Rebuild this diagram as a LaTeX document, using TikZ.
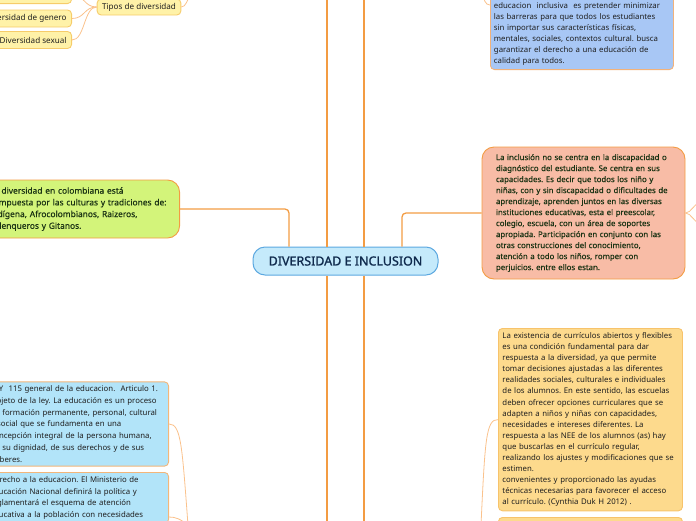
\documentclass[tikz,border=0pt]{standalone}
\usepackage{fontspec}
\setmainfont{Noto Sans}
\newfontfamily\heavyfont{Noto Sans}[FakeBold=0.5]
\newfontfamily\titlefont{Noto Sans}[FakeBold=1.2]
\usepackage{tikz}
\usetikzlibrary{positioning}
\definecolor{branchc}{HTML}{F39C43}
\definecolor{twigc}{HTML}{FAC28C}
\definecolor{topicfill}{HTML}{C5EAFB}
\definecolor{topicline}{HTML}{5CA8E0}
\definecolor{navy}{HTML}{0F2A4D}
\definecolor{lime}{HTML}{D3F47A}
\definecolor{salmon}{HTML}{F8BCA6}
\definecolor{leafc}{HTML}{1B3314}
\definecolor{sky}{HTML}{A8C7F5}
\definecolor{skyline}{HTML}{F2B27A}
\definecolor{sand}{HTML}{FDDA8D}
\definecolor{sandline}{HTML}{F7C36B}
\definecolor{pale}{HTML}{FFF2A8}
\definecolor{paleline}{HTML}{F6CC6A}
\definecolor{cyanfill}{HTML}{B2E4F9}
\definecolor{cyanline}{HTML}{F3B67A}
\definecolor{inkc}{HTML}{1E1E1E}

\begin{document}
\frenchspacing
\begin{tikzpicture}[x=1pt,y=-1pt,
  branch/.style={draw=branchc, line width=1.3pt, rounded corners=4pt},
  twig/.style={draw=twigc, line width=0.8pt},
  card/.style={rounded corners=4pt, line width=0.9pt, align=left, inner ysep=4pt, text=inkc, font=\fontsize{7.8}{11}\selectfont},
  tag/.style={card, fill=pale, draw=paleline, inner xsep=5pt, inner ysep=3pt, minimum height=17pt, align=center, font=\fontsize{8.1}{9}\selectfont},
  topic/.style={draw=topicline, fill=topicfill, line width=1pt, rounded corners=12pt, minimum width=185pt, minimum height=28pt, text=navy, font=\fontsize{12.5}{14}\titlefont}]
\useasboundingbox (0,0) rectangle (696,520);
\clip (0,0) rectangle (696,520);

% centre and main branches
\node[topic] (topic) at (345.5,261) {DIVERSIDAD E INCLUSION};
\coordinate (upleft) at (327,-5);
\coordinate (upright) at (364,-5);
\coordinate (downleft) at (327,525);
\coordinate (downright) at (364,525);

\node[card, fill=lime, draw=branchc, rounded corners=12pt, text=leafc, text width=182pt, inner xsep=8pt, minimum height=58pt, anchor=east, font=\fontsize{8.4}{11.7}\heavyfont] (cultures) at (180,209)
  {La diversidad en colombiana está\\compuesta por las culturas y tradiciones de:\\Indígena, Afrocolombianos, Raizeros,\\Palenqueros y Gitanos.};

\node[card, fill=salmon, draw=branchc, rounded corners=12pt, text=leafc, text width=175pt, inner xsep=14pt, minimum height=132pt, font=\fontsize{7.8}{11}\heavyfont] (inclusion) at (583.5,213)
  {La inclusión no se centra en la discapacidad o\\diagnóstico del estudiante. Se centra en sus\\capacidades. Es decir que todos los niño y\\niñas, con y sin discapacidad o dificultades de\\aprendizaje, aprenden juntos en las diversas\\instituciones educativas, esta el preescolar,\\colegio, escuela, con un área de soportes\\apropiada. Participación en conjunto con las\\otras construcciones del conocimiento,\\atención a todo los niños, romper con\\perjuicios. entre ellos estan.};

\draw[branch] ([xshift=-56.5pt]topic.north) |- (cultures.east);
\draw[branch] ([xshift=56.5pt]topic.north) |- (inclusion.west);
\draw[branch] (topic.north -| upleft) -- (upleft);
\draw[branch] (topic.north -| upright) -- (upright);
\draw[branch] (topic.south -| downleft) -- (downleft);
\draw[branch] (topic.south -| downright) -- (downright);

% top left: kinds of diversity
\node[tag, minimum width=82pt, minimum height=16pt] (types) at (139,7) {Tipos de diversidad};
\node[tag, minimum width=80pt, anchor=south east] (toptype) at (72,4) {};
\node[tag, anchor=east] (gender) at (72,18.5) {Diversidad de genero};
\node[tag, anchor=east] (sexual) at (72,40) {Diversidad sexual};
\coordinate (typesparent) at (192,-8);
\draw[twig] (types.east) .. controls (186,7) and (187,0) .. (typesparent);
\foreach \c in {toptype,gender,sexual}
  \draw[twig] (types.west) .. controls +(-13,0) and +(13,0) .. (\c.east);

% top right
\node[card, fill=sky, draw=skyline, text width=176pt, inner xsep=3.5pt, anchor=south west] (aim) at (490,70)
  {\mbox{}\\educacion\ \ inclusiva\ \ es pretender minimizar\\las barreras para que todos los estudiantes\\sin importar sus características físicas,\\mentales, sociales, contextos cultural. busca\\garantizar el derecho a una educación de\\calidad para todos.};
\coordinate (aimparent) at (482,-10);
\coordinate (aimin) at (490,5);
\draw[twig] (aimparent) .. controls (484,0) and (485,5) .. (aimin);

% right side of the inclusion card
\coordinate (incup) at (700,203);
\coordinate (incdown) at (700,223);
\draw[twig] (inclusion.east) .. controls +(6,0) and +(-6,0) .. (incup);
\draw[twig] (inclusion.east) .. controls +(6,0) and +(-6,0) .. (incdown);

% bottom right
\node[card, fill=sand, draw=sandline, text width=176pt, inner xsep=4pt, minimum height=182pt, anchor=north west, font=\fontsize{7.8}{11.1}\selectfont] (curriculum) at (498,328)
  {La existencia de currículos abiertos y flexibles\\es una condición fundamental para dar\\respuesta a la diversidad, ya que permite\\tomar decisiones ajustadas a las diferentes\\realidades sociales, culturales e individuales\\de los alumnos. En este sentido, las escuelas\\deben ofrecer opciones curriculares que se\\adapten a niños y niñas con capacidades,\\necesidades e intereses diferentes. La\\respuesta a las NEE de los alumnos (as) hay\\que buscarlas en el currículo regular,\\realizando los ajustes y modificaciones que se\\estimen.\\convenientes y proporcionado las ayudas\\técnicas necesarias para favorecer el acceso\\al currículo. (Cynthia Duk H 2012) .};
\node[card, fill=sand, draw=sandline, minimum width=184pt, minimum height=30pt, anchor=north west] (nextcard) at (498,517) {};
\coordinate (curparent) at (481,525);
\draw[twig] (curparent) .. controls (485,440) and (486,419) .. (curriculum.west);

% bottom left
\node[card, fill=cyanfill, draw=cyanline, text width=175pt, inner xsep=3pt, minimum height=82pt, anchor=east, font=\fontsize{7.8}{11.7}\selectfont] (law) at (169,424)
  {LEY\ \ 115 general de la educacion.\ \ Articulo 1.\\Objeto de la ley. La educación es un proceso\\de formación permanente, personal, cultural\\y social que se fundamenta en una\\concepción integral de la persona humana,\\de su dignidad, de sus derechos y de sus\\deberes.};
\node[card, fill=cyanfill, draw=cyanline, text width=176pt, inner xsep=3pt, anchor=north east, font=\fontsize{7.8}{11.7}\selectfont] (right) at (169,472)
  {Derecho a la educacion. El Ministerio de\\Educación Nacional definirá la política y\\reglamentará el esquema de atención\\educativa a la población con necesidades};
\coordinate (lawparent) at (188,525);
\coordinate (rightin) at (169,517);
\draw[twig] (law.east) .. controls (181,424) and (182,445) .. (lawparent);
\draw[twig] (rightin) .. controls (176,517) and (180,519) .. (lawparent);
\end{tikzpicture}
\end{document}
